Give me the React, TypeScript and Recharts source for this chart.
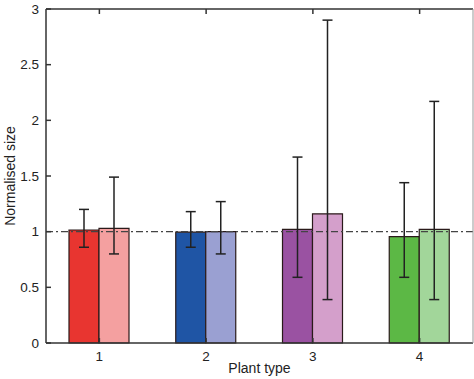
import { BarChart, Bar, XAxis, YAxis, ErrorBar, ReferenceLine, Cell } from "recharts";

const plantTypes = ["1", "2", "3", "4"];
const firstValues = [1.015, 0.995, 1.02, 0.955];
const secondValues = [1.03, 1.0, 1.16, 1.02];
const firstLow = [0.86, 0.86, 0.59, 0.59];
const firstHigh = [1.2, 1.18, 1.67, 1.44];
const secondLow = [0.8, 0.8, 0.39, 0.39];
const secondHigh = [1.49, 1.27, 2.9, 2.17];
const yTicks = [0, 0.5, 1, 1.5, 2, 2.5, 3];

const darkColors = ["#e83530", "#1f55a5", "#9a52a2", "#5cb845"];
const lightColors = ["#f4a0a0", "#9aa0d2", "#d49fcb", "#a2d69a"];

const data = plantTypes.map((type, i) => ({
  type,
  first: firstValues[i],
  second: secondValues[i],
  firstErr: [firstValues[i] - firstLow[i], firstHigh[i] - firstValues[i]],
  secondErr: [secondValues[i] - secondLow[i], secondHigh[i] - secondValues[i]],
}));

const font = "'Liberation Sans', Arial, sans-serif";
const axisColor = "#333";
const tickStyle = { fill: "#222", fontSize: 13.5, fontFamily: font };

export default function App() {
  return (
    <div style={{ position: "fixed", left: 0, top: 0, background: "#fff" }}>
      <BarChart
        width={474}
        height={379}
        data={data}
        margin={{ top: 9, right: 1, bottom: 0, left: 0 }}
        barCategoryGap={23}
        barGap={0}
      >
        <XAxis
          dataKey="type"
          height={36}
          stroke={axisColor}
          strokeWidth={1.5}
          tickSize={-5}
          tickMargin={13}
          tick={tickStyle}
          label={{
            value: "Plant type",
            position: "insideBottom",
            offset: 6,
            style: { fill: "#222", fontSize: 14, fontFamily: font },
          }}
        />
        <XAxis
          xAxisId="top"
          dataKey="type"
          orientation="top"
          mirror
          stroke={axisColor}
          strokeWidth={1.5}
          tickSize={5}
          tickFormatter={() => ""}
        />
        <YAxis
          width={46}
          domain={[0, 3]}
          ticks={yTicks}
          stroke={axisColor}
          strokeWidth={1.5}
          tickSize={-5}
          tickMargin={12}
          tick={tickStyle}
          label={{
            value: "Normalised size",
            angle: -90,
            position: "insideLeft",
            offset: 10,
            style: { fill: "#222", fontSize: 14, fontFamily: font, textAnchor: "middle" },
          }}
        />
        <YAxis
          yAxisId="right"
          orientation="right"
          mirror
          domain={[0, 3]}
          ticks={yTicks}
          stroke="#999"
          strokeWidth={1}
          tickSize={5}
          tickFormatter={() => ""}
        />
        <ReferenceLine y={1} stroke="#444" strokeWidth={1.2} strokeDasharray="7 3 2 3" />
        <Bar dataKey="first" stroke="#2a1a1a" strokeWidth={1.2} isAnimationActive={false}>
          {data.map((d, i) => (
            <Cell key={d.type} fill={darkColors[i]} />
          ))}
          <ErrorBar dataKey="firstErr" width={5} stroke="#222" strokeWidth={1.5} />
        </Bar>
        <Bar dataKey="second" stroke="#2a1a1a" strokeWidth={1.2} isAnimationActive={false}>
          {data.map((d, i) => (
            <Cell key={d.type} fill={lightColors[i]} />
          ))}
          <ErrorBar dataKey="secondErr" width={5} stroke="#222" strokeWidth={1.5} />
        </Bar>
      </BarChart>
    </div>
  );
}
